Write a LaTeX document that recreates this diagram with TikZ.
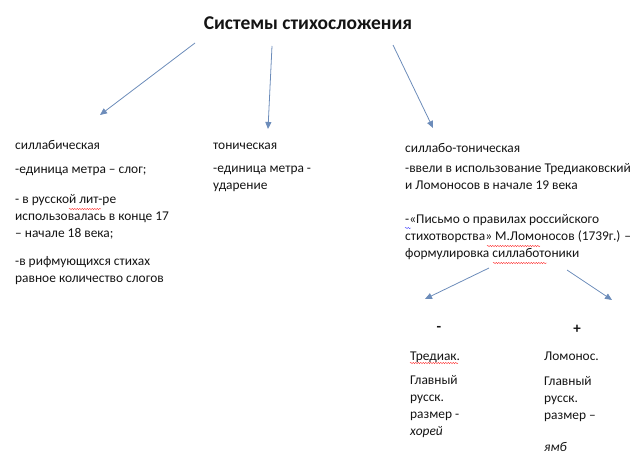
\documentclass[tikz,border=0pt]{standalone}
\usepackage{fontspec}
\setmainfont{Carlito}
\usetikzlibrary{arrows.meta,decorations.pathmorphing}
\definecolor{linkblue}{RGB}{108,140,186}
\definecolor{inkgray}{RGB}{20,20,20}

\begin{document}
\begin{tikzpicture}[x=1pt,y=-1pt,
  txt/.style={font=\fontsize{13.4}{17}\selectfont, text=inkgray, align=left, anchor=north west, inner sep=0pt, execute at begin node=\strut},
  link/.style={-{Triangle[length=7pt,width=6pt]}, draw=linkblue, line width=0.8pt},
  spell/.style={draw=red!80, line width=0.4pt, decorate, decoration={snake, amplitude=0.7pt, segment length=2.5pt}}]
  \useasboundingbox (0,0) rectangle (640,476);

  % title
  \node[font=\fontsize{19.5}{22}\selectfont\bfseries, text=inkgray] (title) at (308,23) {Системы стихосложения};

  % three systems
  \node[txt] (syl) at (15,137) {силлабическая};
  \node[txt] (syl1) at (15,161) {-единица метра – слог;};
  \node[txt] (syl2) at (15,194) {- в русской лит-ре\\использовалась в конце 17\\– начале 18 века;};
  \node[txt] (syl3) at (15,256) {-в рифмующихся стихах\\равное количество слогов};

  \node[txt] (ton) at (213,137) {тоническая};
  \node[txt] (ton1) at (213,166) {-единица метра -\\ударение};

  \node[txt] (st) at (405,140) {силлабо-тоническая};
  \node[txt] (st1) at (405,163) {-ввели в использование Тредиаковский\\и Ломоносов в начале 19 века};
  \node[txt] (st2) at (405,214) {-«Письмо о правилах российского\\стихотворства» М.Ломоносов (1739г.) –\\формулировка силлаботоники};

  % minus / plus
  \node[font=\fontsize{15}{17}\selectfont\bfseries, text=inkgray] (minus) at (439,329) {-};
  \node[font=\fontsize{15}{17}\selectfont\bfseries, text=inkgray] (plus) at (577,329) {+};

  \node[txt] (tred) at (410,348) {Тредиак.};
  \node[txt] (tred1) at (410,375) {Главный\\русск.\\размер -\\\textit{хорей}};
  \node[txt] (lom) at (544,348) {Ломонос.};
  \node[txt] (lom1) at (544,376) {Главный\\русск.\\размер –};
  \node[txt] (lom2) at (544,439) {\textit{ямб}};

  % spelling marks
  \draw[spell] (69,209) -- (101,209);
  \draw[spell] (487,246) -- (540,246);
  \draw[spell] (493,263) -- (547,263);
  \draw[spell] (410,363) -- (458,363);
  \draw[spell,draw=blue!70] (405,228) -- (411,228);

  % arrow ends
  \coordinate (t1) at (195,43);
  \coordinate (t2) at (272,46);
  \coordinate (t3) at (393,45);
  \coordinate (h1) at (100,115);
  \coordinate (h2) at (268,129);
  \coordinate (h3) at (433,128);
  \coordinate (b0) at (489,268);
  \coordinate (b1) at (567,270);
  \coordinate (m1) at (425,299);
  \coordinate (p1) at (612,300);

  \draw[link] (t1) -- (h1);
  \draw[link] (t2) -- (h2);
  \draw[link] (t3) -- (h3);
  \draw[link] (b0) -- (m1);
  \draw[link] (b1) -- (p1);
\end{tikzpicture}
\end{document}
